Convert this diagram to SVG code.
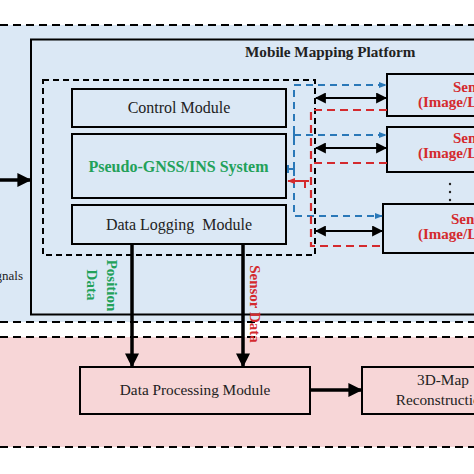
<svg xmlns="http://www.w3.org/2000/svg" width="474" height="474" viewBox="0 0 474 474">
<defs>
<style>
.t{font-family:"Liberation Serif","Times New Roman",serif;fill:#222}
.b{font-weight:bold}
.box{fill:none;stroke:#000;stroke-width:2}
.dash{fill:none;stroke:#000;stroke-width:2;stroke-dasharray:8 5}
.thick{stroke:#000;stroke-width:3.5;fill:none}
.blue{stroke:#2a78b8;stroke-width:2;stroke-dasharray:7 5;fill:none}
.red{stroke:#d42a2e;stroke-width:2.2;stroke-dasharray:8 5;fill:none}
.dbl{stroke:#000;stroke-width:2.2;fill:none}
</style>
<marker id="ah" viewBox="0 0 10 10" refX="9" refY="5" markerWidth="4" markerHeight="4" orient="auto-start-reverse" markerUnits="strokeWidth"><path d="M0,0 L10,5 L0,10 z" fill="#000"/></marker>
<marker id="ahs" viewBox="0 0 10 10" refX="9" refY="5" markerWidth="5" markerHeight="5" orient="auto-start-reverse" markerUnits="strokeWidth"><path d="M0,0 L10,5 L0,10 z" fill="#000"/></marker>
<marker id="ahb" viewBox="0 0 10 10" refX="9" refY="5" markerWidth="4" markerHeight="4" orient="auto" markerUnits="strokeWidth"><path d="M0,1 L10,5 L0,9 z" fill="#2a78b8"/></marker>
<marker id="ahr" viewBox="0 0 10 10" refX="9" refY="5" markerWidth="4" markerHeight="4" orient="auto" markerUnits="strokeWidth"><path d="M0,1 L10,5 L0,9 z" fill="#d42a2e"/></marker>
</defs>
<rect width="474" height="474" fill="#fff"/>
<g id="regions">
<rect x="0" y="25" width="474" height="297" fill="#dbe8f5"/>
<line class="dash" x1="0" y1="25" x2="474" y2="25"/>
<line class="dash" x1="0" y1="322" x2="474" y2="322"/>
<rect x="0" y="337" width="474" height="110" fill="#f7d6d7"/>
<line class="dash" x1="0" y1="337" x2="474" y2="337"/>
<line class="dash" x1="0" y1="447" x2="474" y2="447"/>
</g>
<g id="platform">
<rect class="box" x="31" y="39.5" width="450" height="275"/>
<text class="t b" x="245" y="57" font-size="15.2">Mobile Mapping Platform</text>
</g>
<g id="logging-group">
<rect x="43" y="80" width="272" height="175" fill="none" stroke="#000" stroke-width="2" stroke-dasharray="6 4"/>
</g>
<g id="control">
<rect class="box" x="72" y="89" width="214" height="38"/>
<text class="t" x="179" y="113" font-size="16" text-anchor="middle">Control Module</text>
</g>
<g id="gnss">
<rect class="box" x="72" y="134" width="214" height="64"/>
<text class="t b" x="178.5" y="172" font-size="16" text-anchor="middle" style="fill:#22a159">Pseudo-GNSS/INS System</text>
</g>
<g id="datalog">
<rect class="box" x="72" y="205" width="214" height="39"/>
<text class="t" x="179" y="230" font-size="16" text-anchor="middle" xml:space="preserve">Data Logging  Module</text>
</g>
<g id="sensor1">
<rect class="box" x="387" y="74" width="100" height="42"/>
<text class="t b" x="453" y="92" font-size="15" style="fill:#d42a2e">Sensor</text>
<text class="t b" x="418" y="107" font-size="15" style="fill:#d42a2e">(Image/LiDAR)</text>
</g>
<g id="sensor2">
<rect class="box" x="387" y="127" width="100" height="45"/>
<text class="t b" x="453" y="143" font-size="15" style="fill:#d42a2e">Sensor</text>
<text class="t b" x="418" y="158" font-size="15" style="fill:#d42a2e">(Image/LiDAR)</text>
</g>
<g id="dots">
<circle cx="450" cy="184" r="1.2" fill="#222"/>
<circle cx="450" cy="192" r="1.2" fill="#222"/>
<circle cx="450" cy="200" r="1.2" fill="#222"/>
</g>
<g id="sensor3">
<rect class="box" x="383" y="204" width="104" height="49"/>
<text class="t b" x="451" y="224" font-size="15" style="fill:#d42a2e">Sensor</text>
<text class="t b" x="418" y="239" font-size="15" style="fill:#d42a2e">(Image/LiDAR)</text>
</g>
<g id="processing">
<rect class="box" x="80" y="367" width="230" height="47" fill="#f7d6d7"/>
<text class="t" x="195" y="395" font-size="15.3" text-anchor="middle">Data Processing Module</text>
</g>
<g id="reconstruction">
<rect class="box" x="362" y="367" width="130" height="47"/>
<text class="t" x="443" y="385" font-size="15.3" text-anchor="middle">3D-Map</text>
<text class="t" x="442" y="405" font-size="15.3" text-anchor="middle">Reconstruction</text>
</g>
<g id="labels">
<text class="t" x="23" y="280" font-size="13" text-anchor="end">Signals</text>
<text class="t b" transform="translate(107,285.5) rotate(90)" font-size="15" text-anchor="middle" style="fill:#22a159">Position</text>
<text class="t b" transform="translate(87,285) rotate(90)" font-size="15" text-anchor="middle" style="fill:#22a159">Data</text>
<text class="t b" transform="translate(250,304) rotate(90)" font-size="15" text-anchor="middle" style="fill:#d42a2e">Sensor Data</text>
</g>
<g id="connectors">
<line class="thick" x1="0" y1="180" x2="30" y2="180" marker-end="url(#ah)"/>
<line class="thick" x1="132" y1="244" x2="132" y2="366" marker-end="url(#ah)"/>
<line class="thick" x1="243" y1="244" x2="243" y2="366" marker-end="url(#ah)"/>
<line class="thick" x1="310" y1="390" x2="361" y2="390" marker-end="url(#ah)"/>
<path class="blue" d="M294,169 V85 H386" marker-end="url(#ahb)"/>
<path class="blue" d="M294,135 H386" marker-end="url(#ahb)"/>
<path class="blue" d="M294,169 V216 H382" marker-end="url(#ahb)"/>
<path d="M288,169 H294 M288,165 V173 M294,131 V139" stroke="#2a78b8" stroke-width="2" fill="none"/>
<path class="red" d="M387,110 H311 V246 H383"/>
<path class="red" d="M387,163 H311"/>
<path d="M309,181 H288" stroke="#d42a2e" stroke-width="2" fill="none" marker-end="url(#ahr)"/>
<path d="M305,181 V188" stroke="#d42a2e" stroke-width="2" fill="none"/>
<line class="dbl" x1="316" y1="98" x2="386" y2="98" marker-start="url(#ahs)" marker-end="url(#ahs)"/>
<line class="dbl" x1="316" y1="148" x2="386" y2="148" marker-start="url(#ahs)" marker-end="url(#ahs)"/>
<line class="dbl" x1="316" y1="231" x2="382" y2="231" marker-start="url(#ahs)" marker-end="url(#ahs)"/>
</g>
</svg>
